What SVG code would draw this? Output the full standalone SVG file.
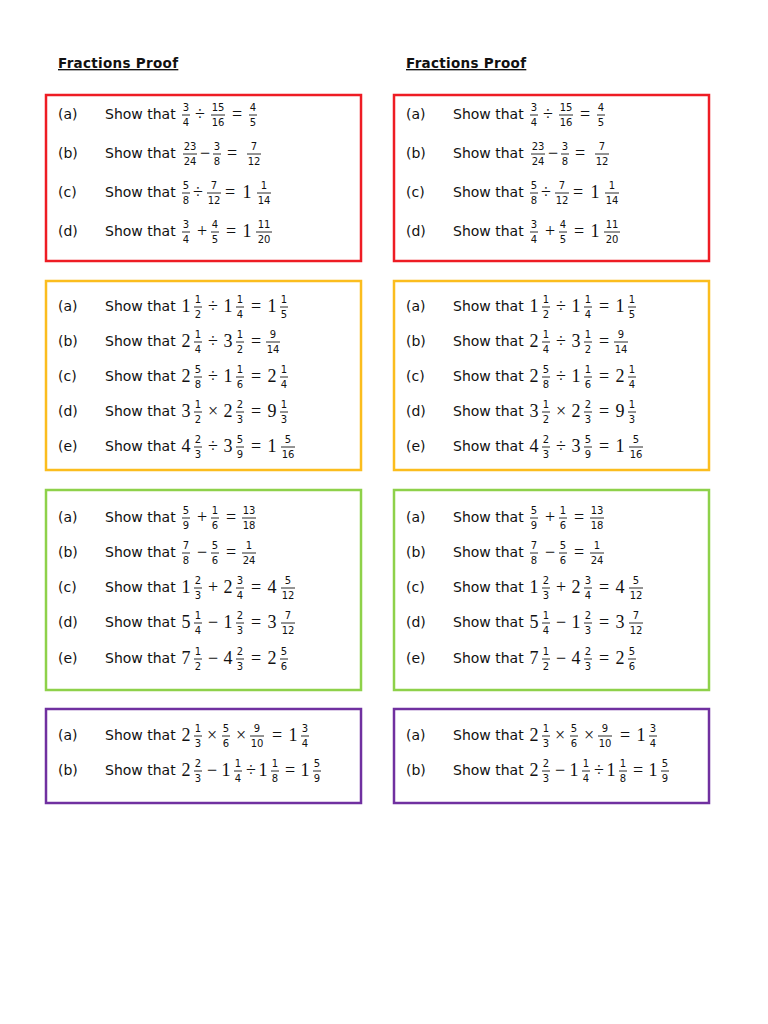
<svg xmlns="http://www.w3.org/2000/svg" xmlns:xlink="http://www.w3.org/1999/xlink" width="768" height="1024" viewBox="0 0 768 1024">
<style>
.t{font-family:"DejaVu Sans",Verdana,sans-serif;font-size:14px;fill:#111}
.h{font-family:"DejaVu Sans",Verdana,sans-serif;font-size:13.5px;font-weight:bold;fill:#111;text-decoration:underline;letter-spacing:0.3px}
.f{font-family:"DejaVu Sans",sans-serif;font-size:10px;fill:#111;text-anchor:middle}
.o{font-family:"Liberation Serif","DejaVu Serif",serif;font-size:18px;fill:#111;text-anchor:middle}
.b{stroke:#111;stroke-width:0.9}
.box{fill:none;stroke-width:2.5}
</style>
<rect width="768" height="1024" fill="#fff"/>
<g id="L">
<text class="h" x="58" y="68">Fractions Proof</text>
<rect class="box" x="46" y="95" width="315" height="166" stroke="#ee1c24"/>
<rect class="box" x="46" y="281" width="315" height="189" stroke="#fbbd1e"/>
<rect class="box" x="46" y="490" width="315" height="200" stroke="#8ed14a"/>
<rect class="box" x="46" y="709" width="315" height="94" stroke="#7030a0"/>
<!-- box1 -->
<g transform="translate(0,114)"><text class="t" x="58" y="5">(a)</text><text class="t" x="105" y="5">Show that</text>
<text class="f" x="186" y="-3">3</text><line class="b" x1="182" x2="190" y1="1" y2="1"/><text class="f" x="186" y="12">4</text>
<text class="o" x="200" y="6">÷</text>
<text class="f" x="218" y="-3">15</text><line class="b" x1="211" x2="225" y1="1" y2="1"/><text class="f" x="218" y="12">16</text>
<text class="o" x="237" y="6">=</text>
<text class="f" x="253" y="-3">4</text><line class="b" x1="249" x2="257" y1="1" y2="1"/><text class="f" x="253" y="12">5</text></g>
<g transform="translate(0,153)"><text class="t" x="58" y="5">(b)</text><text class="t" x="105" y="5">Show that</text>
<text class="f" x="190" y="-3">23</text><line class="b" x1="183" x2="197" y1="1" y2="1"/><text class="f" x="190" y="12">24</text>
<text class="o" x="205" y="6">−</text>
<text class="f" x="217" y="-3">3</text><line class="b" x1="213" x2="221" y1="1" y2="1"/><text class="f" x="217" y="12">8</text>
<text class="o" x="232" y="6">=</text>
<text class="f" x="254" y="-3">7</text><line class="b" x1="247" x2="261" y1="1" y2="1"/><text class="f" x="254" y="12">12</text></g>
<g transform="translate(0,192)"><text class="t" x="58" y="5">(c)</text><text class="t" x="105" y="5">Show that</text>
<text class="f" x="186" y="-3">5</text><line class="b" x1="182" x2="190" y1="1" y2="1"/><text class="f" x="186" y="12">8</text>
<text class="o" x="198" y="6">÷</text>
<text class="f" x="214" y="-3">7</text><line class="b" x1="207" x2="221" y1="1" y2="1"/><text class="f" x="214" y="12">12</text>
<text class="o" x="230" y="6">=</text><text class="o" x="247" y="6">1</text>
<text class="f" x="264" y="-3">1</text><line class="b" x1="257" x2="271" y1="1" y2="1"/><text class="f" x="264" y="12">14</text></g>
<g transform="translate(0,231)"><text class="t" x="58" y="5">(d)</text><text class="t" x="105" y="5">Show that</text>
<text class="f" x="186" y="-3">3</text><line class="b" x1="182" x2="190" y1="1" y2="1"/><text class="f" x="186" y="12">4</text>
<text class="o" x="202" y="6">+</text>
<text class="f" x="215" y="-3">4</text><line class="b" x1="211" x2="219" y1="1" y2="1"/><text class="f" x="215" y="12">5</text>
<text class="o" x="231" y="6">=</text><text class="o" x="247" y="6">1</text>
<text class="f" x="264" y="-3">11</text><line class="b" x1="256" x2="272" y1="1" y2="1"/><text class="f" x="264" y="12">20</text></g>
<!-- box2 -->
<g transform="translate(0,306)"><text class="t" x="58" y="5">(a)</text><text class="t" x="105" y="5">Show that</text>
<text class="o" x="186" y="6">1</text><text class="f" x="198" y="-3">1</text><line class="b" x1="194" x2="202" y1="1" y2="1"/><text class="f" x="198" y="12">2</text>
<text class="o" x="213" y="6">÷</text><text class="o" x="228" y="6">1</text><text class="f" x="240" y="-3">1</text><line class="b" x1="236" x2="244" y1="1" y2="1"/><text class="f" x="240" y="12">4</text>
<text class="o" x="256" y="6">=</text><text class="o" x="272" y="6">1</text><text class="f" x="284" y="-3">1</text><line class="b" x1="280" x2="288" y1="1" y2="1"/><text class="f" x="284" y="12">5</text></g>
<g transform="translate(0,341)"><text class="t" x="58" y="5">(b)</text><text class="t" x="105" y="5">Show that</text>
<text class="o" x="186" y="6">2</text><text class="f" x="198" y="-3">1</text><line class="b" x1="194" x2="202" y1="1" y2="1"/><text class="f" x="198" y="12">4</text>
<text class="o" x="213" y="6">÷</text><text class="o" x="228" y="6">3</text><text class="f" x="240" y="-3">1</text><line class="b" x1="236" x2="244" y1="1" y2="1"/><text class="f" x="240" y="12">2</text>
<text class="o" x="256" y="6">=</text><text class="f" x="273" y="-3">9</text><line class="b" x1="266" x2="280" y1="1" y2="1"/><text class="f" x="273" y="12">14</text></g>
<g transform="translate(0,376)"><text class="t" x="58" y="5">(c)</text><text class="t" x="105" y="5">Show that</text>
<text class="o" x="186" y="6">2</text><text class="f" x="198" y="-3">5</text><line class="b" x1="194" x2="202" y1="1" y2="1"/><text class="f" x="198" y="12">8</text>
<text class="o" x="213" y="6">÷</text><text class="o" x="228" y="6">1</text><text class="f" x="240" y="-3">1</text><line class="b" x1="236" x2="244" y1="1" y2="1"/><text class="f" x="240" y="12">6</text>
<text class="o" x="256" y="6">=</text><text class="o" x="272" y="6">2</text><text class="f" x="284" y="-3">1</text><line class="b" x1="280" x2="288" y1="1" y2="1"/><text class="f" x="284" y="12">4</text></g>
<g transform="translate(0,411)"><text class="t" x="58" y="5">(d)</text><text class="t" x="105" y="5">Show that</text>
<text class="o" x="186" y="6">3</text><text class="f" x="198" y="-3">1</text><line class="b" x1="194" x2="202" y1="1" y2="1"/><text class="f" x="198" y="12">2</text>
<text class="o" x="213" y="6">×</text><text class="o" x="228" y="6">2</text><text class="f" x="240" y="-3">2</text><line class="b" x1="236" x2="244" y1="1" y2="1"/><text class="f" x="240" y="12">3</text>
<text class="o" x="256" y="6">=</text><text class="o" x="272" y="6">9</text><text class="f" x="284" y="-3">1</text><line class="b" x1="280" x2="288" y1="1" y2="1"/><text class="f" x="284" y="12">3</text></g>
<g transform="translate(0,446)"><text class="t" x="58" y="5">(e)</text><text class="t" x="105" y="5">Show that</text>
<text class="o" x="186" y="6">4</text><text class="f" x="198" y="-3">2</text><line class="b" x1="194" x2="202" y1="1" y2="1"/><text class="f" x="198" y="12">3</text>
<text class="o" x="213" y="6">÷</text><text class="o" x="228" y="6">3</text><text class="f" x="240" y="-3">5</text><line class="b" x1="236" x2="244" y1="1" y2="1"/><text class="f" x="240" y="12">9</text>
<text class="o" x="256" y="6">=</text><text class="o" x="272" y="6">1</text><text class="f" x="288" y="-3">5</text><line class="b" x1="281" x2="295" y1="1" y2="1"/><text class="f" x="288" y="12">16</text></g>
<!-- box3 -->
<g transform="translate(0,517)"><text class="t" x="58" y="5">(a)</text><text class="t" x="105" y="5">Show that</text>
<text class="f" x="186" y="-3">5</text><line class="b" x1="182" x2="190" y1="1" y2="1"/><text class="f" x="186" y="12">9</text>
<text class="o" x="202" y="6">+</text>
<text class="f" x="215" y="-3">1</text><line class="b" x1="211" x2="219" y1="1" y2="1"/><text class="f" x="215" y="12">6</text>
<text class="o" x="231" y="6">=</text>
<text class="f" x="249" y="-3">13</text><line class="b" x1="242" x2="256" y1="1" y2="1"/><text class="f" x="249" y="12">18</text></g>
<g transform="translate(0,552)"><text class="t" x="58" y="5">(b)</text><text class="t" x="105" y="5">Show that</text>
<text class="f" x="186" y="-3">7</text><line class="b" x1="182" x2="190" y1="1" y2="1"/><text class="f" x="186" y="12">8</text>
<text class="o" x="202" y="6">−</text>
<text class="f" x="215" y="-3">5</text><line class="b" x1="211" x2="219" y1="1" y2="1"/><text class="f" x="215" y="12">6</text>
<text class="o" x="231" y="6">=</text>
<text class="f" x="249" y="-3">1</text><line class="b" x1="242" x2="256" y1="1" y2="1"/><text class="f" x="249" y="12">24</text></g>
<g transform="translate(0,587)"><text class="t" x="58" y="5">(c)</text><text class="t" x="105" y="5">Show that</text>
<text class="o" x="186" y="6">1</text><text class="f" x="198" y="-3">2</text><line class="b" x1="194" x2="202" y1="1" y2="1"/><text class="f" x="198" y="12">3</text>
<text class="o" x="213" y="6">+</text><text class="o" x="228" y="6">2</text><text class="f" x="240" y="-3">3</text><line class="b" x1="236" x2="244" y1="1" y2="1"/><text class="f" x="240" y="12">4</text>
<text class="o" x="256" y="6">=</text><text class="o" x="272" y="6">4</text><text class="f" x="288" y="-3">5</text><line class="b" x1="281" x2="295" y1="1" y2="1"/><text class="f" x="288" y="12">12</text></g>
<g transform="translate(0,622)"><text class="t" x="58" y="5">(d)</text><text class="t" x="105" y="5">Show that</text>
<text class="o" x="186" y="6">5</text><text class="f" x="198" y="-3">1</text><line class="b" x1="194" x2="202" y1="1" y2="1"/><text class="f" x="198" y="12">4</text>
<text class="o" x="213" y="6">−</text><text class="o" x="228" y="6">1</text><text class="f" x="240" y="-3">2</text><line class="b" x1="236" x2="244" y1="1" y2="1"/><text class="f" x="240" y="12">3</text>
<text class="o" x="256" y="6">=</text><text class="o" x="272" y="6">3</text><text class="f" x="288" y="-3">7</text><line class="b" x1="281" x2="295" y1="1" y2="1"/><text class="f" x="288" y="12">12</text></g>
<g transform="translate(0,658)"><text class="t" x="58" y="5">(e)</text><text class="t" x="105" y="5">Show that</text>
<text class="o" x="186" y="6">7</text><text class="f" x="198" y="-3">1</text><line class="b" x1="194" x2="202" y1="1" y2="1"/><text class="f" x="198" y="12">2</text>
<text class="o" x="213" y="6">−</text><text class="o" x="228" y="6">4</text><text class="f" x="240" y="-3">2</text><line class="b" x1="236" x2="244" y1="1" y2="1"/><text class="f" x="240" y="12">3</text>
<text class="o" x="256" y="6">=</text><text class="o" x="272" y="6">2</text><text class="f" x="284" y="-3">5</text><line class="b" x1="280" x2="288" y1="1" y2="1"/><text class="f" x="284" y="12">6</text></g>
<!-- box4 -->
<g transform="translate(0,735)"><text class="t" x="58" y="5">(a)</text><text class="t" x="105" y="5">Show that</text>
<text class="o" x="186" y="6">2</text><text class="f" x="198" y="-3">1</text><line class="b" x1="194" x2="202" y1="1" y2="1"/><text class="f" x="198" y="12">3</text>
<text class="o" x="212" y="6">×</text>
<text class="f" x="226" y="-3">5</text><line class="b" x1="222" x2="230" y1="1" y2="1"/><text class="f" x="226" y="12">6</text>
<text class="o" x="241" y="6">×</text>
<text class="f" x="257" y="-3">9</text><line class="b" x1="250" x2="264" y1="1" y2="1"/><text class="f" x="257" y="12">10</text>
<text class="o" x="277" y="6">=</text><text class="o" x="293" y="6">1</text><text class="f" x="305" y="-3">3</text><line class="b" x1="301" x2="309" y1="1" y2="1"/><text class="f" x="305" y="12">4</text></g>
<g transform="translate(0,770)"><text class="t" x="58" y="5">(b)</text><text class="t" x="105" y="5">Show that</text>
<text class="o" x="186" y="6">2</text><text class="f" x="198" y="-3">2</text><line class="b" x1="194" x2="202" y1="1" y2="1"/><text class="f" x="198" y="12">3</text>
<text class="o" x="212" y="6">−</text><text class="o" x="226" y="6">1</text><text class="f" x="238" y="-3">1</text><line class="b" x1="234" x2="242" y1="1" y2="1"/><text class="f" x="238" y="12">4</text>
<text class="o" x="251" y="6">÷</text><text class="o" x="263" y="6">1</text><text class="f" x="275" y="-3">1</text><line class="b" x1="271" x2="279" y1="1" y2="1"/><text class="f" x="275" y="12">8</text>
<text class="o" x="290" y="6">=</text><text class="o" x="305" y="6">1</text><text class="f" x="317" y="-3">5</text><line class="b" x1="313" x2="321" y1="1" y2="1"/><text class="f" x="317" y="12">9</text></g>
</g>
<use id="R" href="#L" xlink:href="#L" x="348"/>
</svg>
